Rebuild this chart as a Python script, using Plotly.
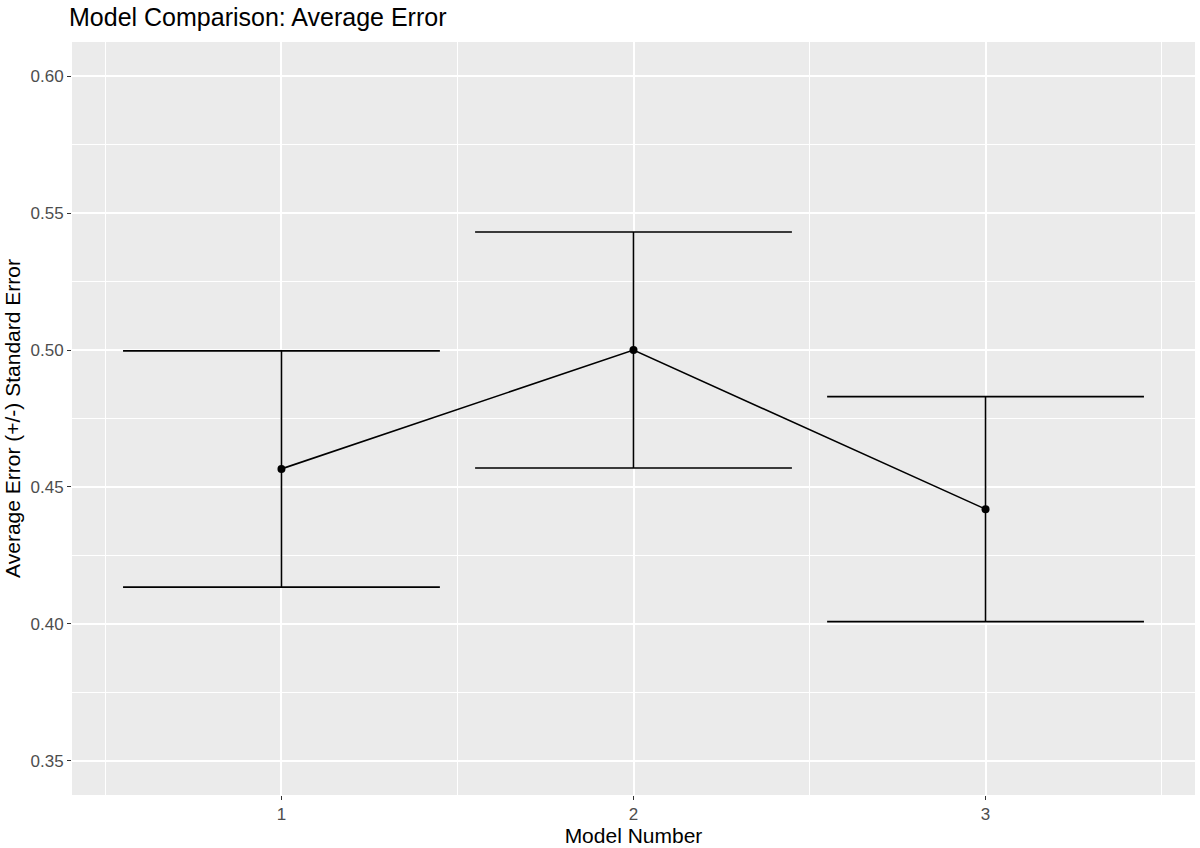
import plotly.graph_objects as go

models = [1, 2, 3]
mean_error = [0.4566, 0.5000, 0.4419]
upper = [0.4997, 0.5431, 0.4830]
lower = [0.4134, 0.4569, 0.4008]
y_ticks = [0.35, 0.40, 0.45, 0.50, 0.55, 0.60]
y_tick_text = ["0.35", "0.40", "0.45", "0.50", "0.55", "0.60"]

err_plus = [u - m for u, m in zip(upper, mean_error)]
err_minus = [m - l for m, l in zip(mean_error, lower)]

W, H = 1200, 848
ml, mr, mt, mb = 72, 5, 42, 53
xr = [0.405, 3.595]
yr = [0.3375, 0.6125]
px_per_unit = (W - ml - mr) / (xr[1] - xr[0])
cap_half = 0.45 * px_per_unit

fig = go.Figure()
fig.add_trace(go.Scatter(
    x=models, y=mean_error, mode="lines+markers",
    line=dict(color="black", width=1.6),
    marker=dict(color="black", size=8),
    error_y=dict(type="data", symmetric=False, array=err_plus, arrayminus=err_minus,
                 color="black", thickness=1.6, width=cap_half),
    showlegend=False,
))

fig.update_layout(
    width=W, height=H,
    margin=dict(l=ml, r=mr, t=mt, b=mb),
    paper_bgcolor="white",
    plot_bgcolor="#EBEBEB",
    font=dict(family="Liberation Sans, Arial, sans-serif", color="black"),
    title=dict(text="Model Comparison: Average Error", x=69 / W, xanchor="left",
               y=1 - 17 / H, yanchor="middle", font=dict(size=25, color="black")),
)
fig.update_xaxes(
    range=xr, tickvals=models, ticktext=[str(m) for m in models],
    showgrid=True, gridcolor="white", gridwidth=1.8,
    minor=dict(tickvals=[0.5, 1.5, 2.5, 3.5], showgrid=True, gridcolor="white", gridwidth=0.9, ticks=""),
    ticks="outside", ticklen=4, tickcolor="#333333", tickwidth=1.1,
    tickfont=dict(size=17, color="#4D4D4D"),
    zeroline=False, showline=False,
    title=dict(text="Model Number", font=dict(size=21, color="black"), standoff=4),
)
fig.update_yaxes(
    range=yr, tickvals=y_ticks, ticktext=y_tick_text,
    showgrid=True, gridcolor="white", gridwidth=1.8,
    minor=dict(tickvals=[0.375, 0.425, 0.475, 0.525, 0.575], showgrid=True, gridcolor="white", gridwidth=0.9, ticks=""),
    ticks="outside", ticklen=4, tickcolor="#333333", tickwidth=1.1,
    tickfont=dict(size=17, color="#4D4D4D"),
    zeroline=False, showline=False,
    title=dict(text="Average Error (+/-) Standard Error", font=dict(size=21, color="black"), standoff=4),
)

fig.write_html("out.html")
